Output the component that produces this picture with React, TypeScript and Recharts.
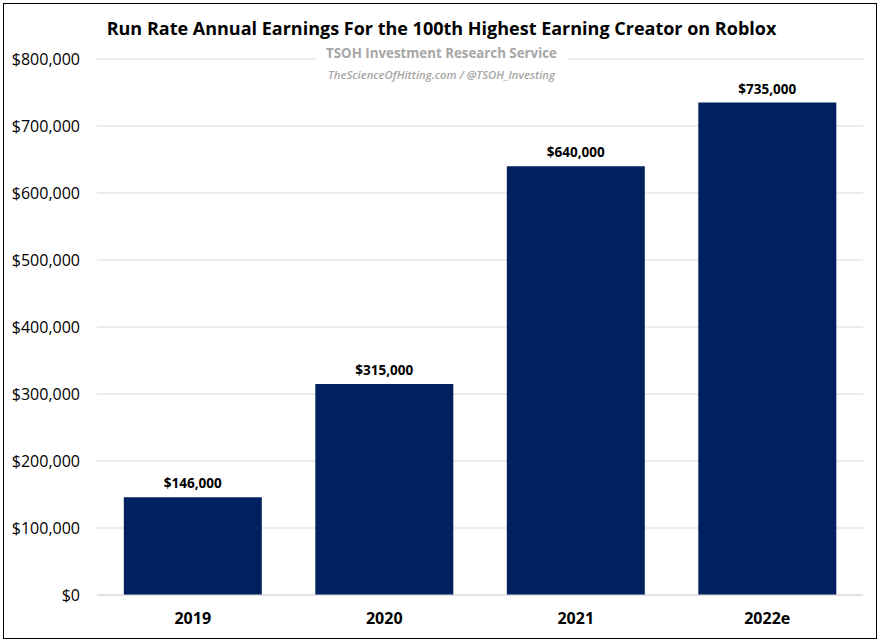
import React from "react";
import { BarChart, Bar, XAxis, YAxis, CartesianGrid, LabelList } from "recharts";

const categories = ["2019", "2020", "2021", "2022e"];
const earnings = [146000, 315000, 640000, 735000];
const yTicks = [0, 100000, 200000, 300000, 400000, 500000, 600000, 700000, 800000];

const data = categories.map((c, i) => ({ year: c, value: earnings[i] }));

const fmt = (v: number) => "$" + v.toLocaleString("en-US");

const FONT = "'Open Sans', sans-serif";

export default function App() {
  return (
    <div style={{ position: "absolute", left: 0, top: 0, width: 883, height: 644, background: "#fff", fontFamily: FONT }}>
      <BarChart
        width={883}
        height={644}
        data={data}
        margin={{ top: 59, right: 20, bottom: 19, left: 10 }}
        barCategoryGap="14%"
      >
        <CartesianGrid vertical={false} stroke="#d9d9d9" strokeWidth={1} />
        <XAxis
          dataKey="year"
          axisLine={{ stroke: "#d9d9d9" }}
          tickLine={false}
          tickSize={0}
          tickMargin={18}
          height={30}
          tick={{ fill: "#000", fontSize: 16, fontWeight: 700, fontFamily: FONT }}
        />
        <YAxis
          width={87}
          domain={[0, 800000]}
          ticks={yTicks}
          tickFormatter={fmt}
          axisLine={false}
          tickLine={false}
          tickSize={0}
          tickMargin={17}
          tick={{ fill: "#000", fontSize: 16, fontFamily: FONT }}
        />
        <Bar dataKey="value" fill="#002060" isAnimationActive={false}>
          <LabelList
            dataKey="value"
            position="top"
            offset={9}
            formatter={(v: number) => fmt(v)}
            style={{ fill: "#000", fontSize: 13.5, fontWeight: 700, fontFamily: FONT }}
          />
        </Bar>
      </BarChart>
      <div style={{ position: "absolute", left: 3, top: 3, width: 872, height: 634, border: "1px solid #000", pointerEvents: "none" }} />
      <div style={{ position: "absolute", left: 0, width: 883, top: 14, textAlign: "center", fontSize: 18, fontWeight: 700, color: "#000", lineHeight: "28px", whiteSpace: "nowrap" }}>
        Run Rate Annual Earnings For the 100th Highest Earning Creator on Roblox
      </div>
      <div style={{ position: "absolute", left: 315, width: 253, top: 42, textAlign: "center", fontSize: 13.3, fontWeight: 700, color: "#a6a6a6", lineHeight: "22px", background: "#fff", whiteSpace: "nowrap" }}>
        TSOH Investment Research Service
      </div>
      <div style={{ position: "absolute", left: 0, width: 883, top: 66, textAlign: "center", fontSize: 11.3, fontStyle: "italic", fontWeight: 600, color: "#a6a6a6", lineHeight: "18px", whiteSpace: "nowrap" }}>
        TheScienceOfHitting.com / @TSOH_Investing
      </div>
    </div>
  );
}
